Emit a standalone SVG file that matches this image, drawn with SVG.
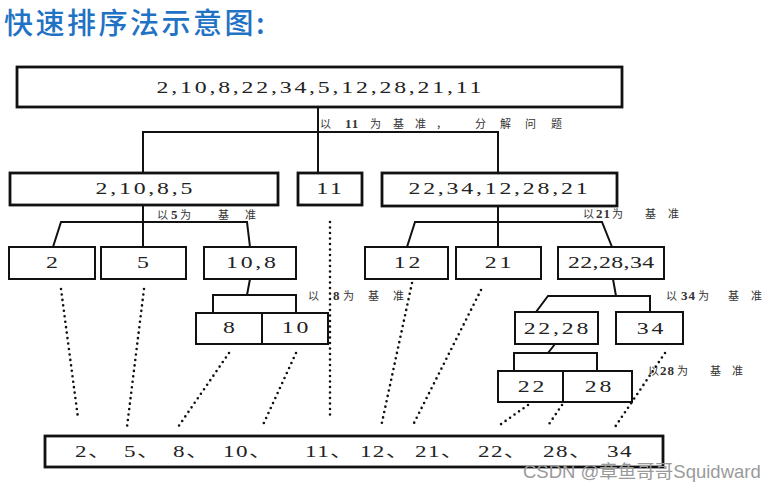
<svg xmlns="http://www.w3.org/2000/svg" width="779" height="490" viewBox="0 0 779 490">
<style>
.box{fill:#fff;stroke:#111;stroke-width:2}
.thick{stroke-width:2.8}
.num{font-family:"Liberation Serif","Noto Sans CJK SC",serif;font-size:17px;fill:#222;letter-spacing:2px;text-anchor:middle}
.res{font-family:"Liberation Serif","Noto Sans CJK SC",serif;font-size:16.5px;fill:#222;letter-spacing:1px}
.lbl{font-family:"Noto Sans CJK SC",sans-serif;font-size:11px;fill:#333}
.d{font-family:"Liberation Serif",serif;font-weight:bold;font-size:13px;letter-spacing:1px}
.ln{stroke:#111;stroke-width:2;fill:none}
.dot{stroke:#111;stroke-width:2.6;stroke-linecap:round;stroke-dasharray:0 5.5;fill:none}
</style>
<rect width="779" height="490" fill="#fff"/>
<text x="4" y="34" font-family="Noto Sans CJK SC" font-weight="500" font-size="29" fill="#1f72c4" letter-spacing="2.5">快速排序法示意图:</text>

<g id="connectors">
  <path class="ln" d="M318,107 V173 M143,173 V132 H498 V173"/>
  <path class="ln" d="M143,205 V247 M53,247 L61,222 H247 L250,247"/>
  <path class="ln" d="M250,279 L247,295 M213,313 V295 H296 V313"/>
  <path class="ln" d="M498,206 V247 M407,247 L415,222 H602 L612,247"/>
  <path class="ln" d="M613,279 L616,296 M536,312 L548,296 H650 V312"/>
  <path class="ln" d="M555,344 L548,353 M514,371 V353 H597 V371"/>
  <path class="dot" d="M61,289 L78,418"/>
  <path class="dot" d="M144,289 L127,427"/>
  <path class="dot" d="M229,353 L178,427"/>
  <path class="dot" d="M296,353 L262,427"/>
  <path class="dot" d="M330,222 L330,418"/>
  <path class="dot" d="M412,283 L381,427"/>
  <path class="dot" d="M481,290 L412,427"/>
  <path class="dot" d="M528,405 L497,427"/>
  <path class="dot" d="M562,405 L547,427"/>
  <path class="dot" d="M665,353 L615,427"/>
  <text class="lbl" y="128"><tspan x="320">以</tspan><tspan class="d" x="345">11</tspan><tspan x="370">为</tspan><tspan x="393">基</tspan><tspan x="415">准</tspan><tspan x="436">，</tspan><tspan x="475">分</tspan><tspan x="500">解</tspan><tspan x="525">问</tspan><tspan x="551">题</tspan></text>
  <text class="lbl" y="219"><tspan x="157">以</tspan><tspan class="d" x="171">5</tspan><tspan x="180">为</tspan><tspan x="218">基</tspan><tspan x="245">准</tspan></text>
  <text class="lbl" y="300"><tspan x="308">以</tspan><tspan class="d" x="333">8</tspan><tspan x="343">为</tspan><tspan x="368">基</tspan><tspan x="393">准</tspan></text>
  <text class="lbl" y="218"><tspan x="583">以</tspan><tspan class="d" x="596">21</tspan><tspan x="612">为</tspan><tspan x="645">基</tspan><tspan x="668">准</tspan></text>
  <text class="lbl" y="300"><tspan x="666">以</tspan><tspan class="d" x="681">34</tspan><tspan x="698">为</tspan><tspan x="728">基</tspan><tspan x="751">准</tspan></text>
  <text class="lbl" y="375"><tspan x="648">以</tspan><tspan class="d" x="660">28</tspan><tspan x="677">为</tspan><tspan x="710">基</tspan><tspan x="732">准</tspan></text>
</g>

<g id="n_all"><rect class="box thick" x="17" y="67" width="605" height="40"/><text class="num" transform="translate(320.4,93) scale(1.4,1)">2,10,8,22,34,5,12,28,21,11</text></g>
<g id="n_left"><rect class="box thick" x="10" y="173" width="268" height="32"/><text class="num" transform="translate(145.4,194) scale(1.4,1)">2,10,8,5</text></g>
<g id="n_11"><rect class="box thick" x="298" y="173" width="64" height="32"/><text class="num" transform="translate(330.4,194) scale(1.4,1)">11</text></g>
<g id="n_right"><rect class="box thick" x="382" y="173" width="235" height="33"/><text class="num" transform="translate(499.4,194) scale(1.4,1)">22,34,12,28,21</text></g>
<g id="n_2"><rect class="box" x="9" y="247" width="86" height="32"/><text class="num" transform="translate(53.4,268) scale(1.4,1)">2</text></g>
<g id="n_5"><rect class="box" x="101" y="247" width="85" height="32"/><text class="num" transform="translate(144.4,268) scale(1.4,1)">5</text></g>
<g id="n_10_8"><rect class="box" x="204" y="247" width="92" height="32"/><text class="num" transform="translate(252.4,268) scale(1.4,1)">10,8</text></g>
<g id="n_8"><rect class="box" x="196" y="313" width="66" height="31"/><text class="num" transform="translate(230.4,333) scale(1.4,1)">8</text></g>
<g id="n_10"><rect class="box" x="262" y="313" width="66" height="31"/><text class="num" transform="translate(296.4,333) scale(1.4,1)">10</text></g>
<g id="n_12"><rect class="box" x="365" y="247" width="83" height="32"/><text class="num" transform="translate(408.4,268) scale(1.4,1)">12</text></g>
<g id="n_21"><rect class="box" x="456" y="247" width="85" height="32"/><text class="num" transform="translate(499.4,268) scale(1.4,1)">21</text></g>
<g id="n_22_28_34"><rect class="box" x="558" y="247" width="106" height="32"/><text class="num" transform="translate(611.2,268) scale(1.4,1)" style="letter-spacing:0.3px">22,28,34</text></g>
<g id="n_22_28"><rect class="box" x="515" y="312" width="83" height="32"/><text class="num" transform="translate(557.4,334) scale(1.4,1)">22,28</text></g>
<g id="n_34"><rect class="box" x="616" y="312" width="67" height="32"/><text class="num" transform="translate(651.4,334) scale(1.4,1)">34</text></g>
<g id="n_22"><rect class="box" x="498" y="371" width="65" height="31"/><text class="num" transform="translate(532.4,392) scale(1.4,1)">22</text></g>
<g id="n_28"><rect class="box" x="563" y="371" width="69" height="31"/><text class="num" transform="translate(599.4,392) scale(1.4,1)">28</text></g>
<g id="n_result"><rect class="box thick" x="45" y="436" width="618" height="31"/>
<text class="res" transform="translate(0,457) scale(1.4,1)"><tspan x="53.6">2、</tspan><tspan x="88.6">5、</tspan><tspan x="123.6">8、</tspan><tspan x="159.3">10、</tspan><tspan x="217.9">11、</tspan><tspan x="257.1">12、</tspan><tspan x="296.4">21、</tspan><tspan x="341.4">22、</tspan><tspan x="387.9">28、</tspan><tspan x="433.6">34</tspan></text></g>

<text x="523" y="478" font-family="Liberation Sans,'Noto Sans CJK SC',sans-serif" font-size="18.5" fill="#9a9a9a">CSDN @章鱼哥哥Squidward</text>
</svg>
